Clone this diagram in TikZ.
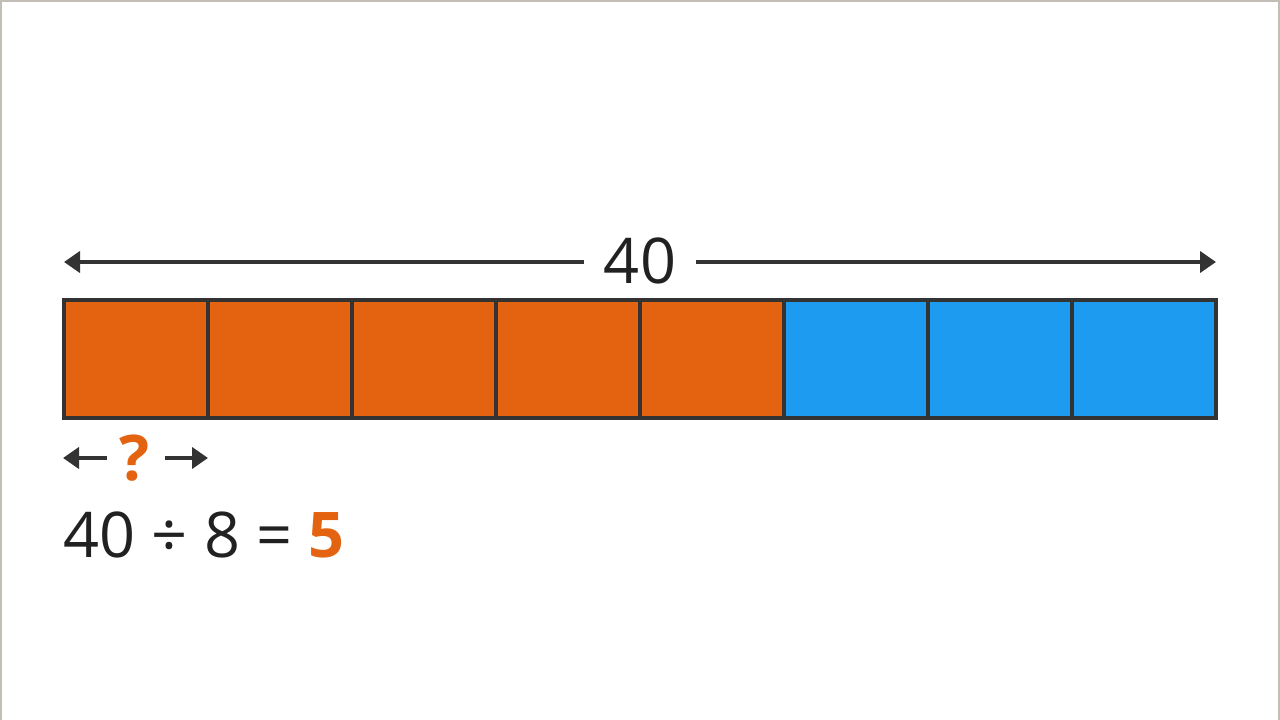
\documentclass[tikz,border=0pt]{standalone}
\usepackage{fontspec}
\setmainfont{Open Sans}
\usetikzlibrary{arrows.meta}
\definecolor{barorange}{HTML}{E36311}
\definecolor{barblue}{HTML}{1D9BF0}
\definecolor{edgegray}{HTML}{333333}
\definecolor{framegray}{HTML}{C2BDB5}
\tikzset{
  cell/.style={draw=edgegray, line width=4pt, minimum width=144pt, minimum height=118pt, inner sep=0pt},
  dimarrow/.style={draw=edgegray, line width=4.5pt, -{Triangle[length=16pt,width=21pt]}},
  bigtext/.style={font=\fontsize{63}{76}\selectfont, text=black!87, inner sep=0pt}
}

\begin{document}
\begin{tikzpicture}[x=1pt,y=-1pt]
  \useasboundingbox (0,0) rectangle (1280,720);
  \draw[framegray, line width=2.5pt] (1,720) -- (1,1) -- (1279,1) -- (1279,720);

  % the bar of eight parts
  \foreach \i/\col in {0/barorange,1/barorange,2/barorange,3/barorange,4/barorange,5/barblue,6/barblue,7/barblue}
    \node[cell, fill=\col] (c\i) at ({136+144*\i},359) {};

  % total above the bar
  \node[bigtext, anchor=base] (total) at (640,283) {40};
  \coordinate (lft) at (64,262);
  \coordinate (rgt) at (1216,262);
  \draw[dimarrow] ([xshift=-20pt]total.west |- lft) -- (lft);
  \draw[dimarrow] ([xshift=20pt]total.east |- rgt) -- (rgt);

  % one part
  \node[bigtext, anchor=base, text=barorange, font=\fontsize{63}{76}\selectfont\bfseries] (part) at (135,480) {?};
  \coordinate (pl0) at (107,458);
  \coordinate (plft) at (63,458);
  \coordinate (pr0) at (165,458);
  \coordinate (prgt) at (208,458);
  \draw[dimarrow] (pl0) -- (plft);
  \draw[dimarrow] (pr0) -- (prgt);

  % the sum
  \node[bigtext, anchor=base west] (sum) at (63,557) {40 ÷ 8 = \textcolor{barorange}{\bfseries 5}};
\end{tikzpicture}
\end{document}
